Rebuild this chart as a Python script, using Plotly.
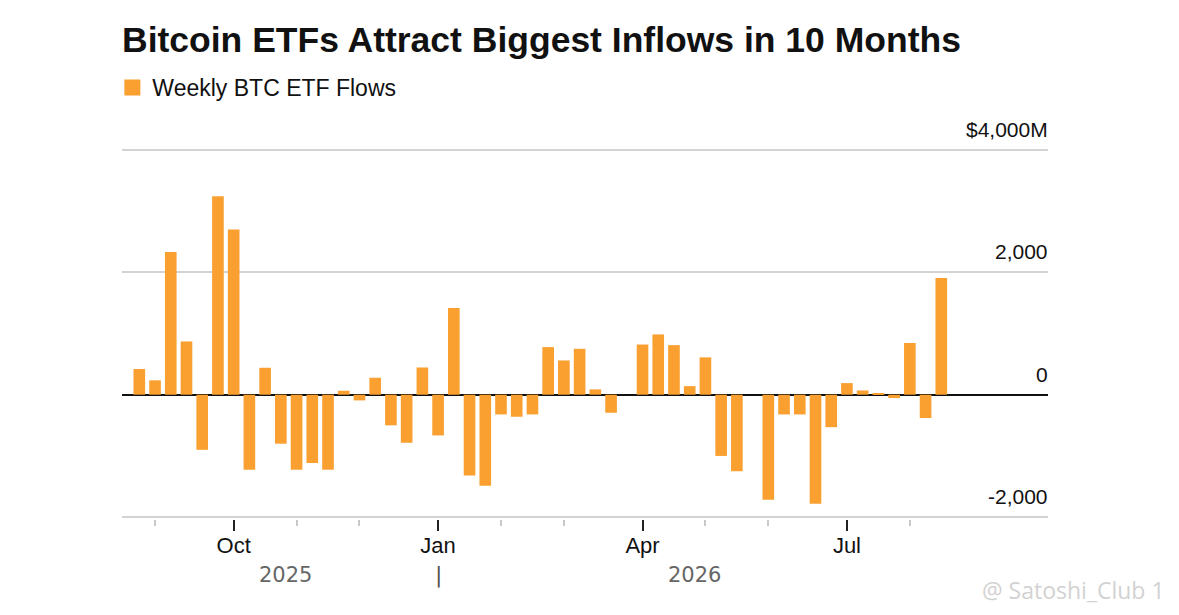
import plotly.graph_objects as go
import pandas as pd

# ---- data ----
week_ending = pd.date_range("2025-08-22", periods=52, freq="7D")
flows_musd = [
    420, 235, 2330, 870, -900, 3240, 2700, -1225, 440, -800,
    -1225, -1117, -1225, 65, -93, 277, -500, -785, 445, -665,
    1415, -1318, -1485, -322, -360, -322, 778, 560, 750, 87,
    -295, 0, 820, 985, 810, 140, 610, -1000, -1250, 0,
    -1715, -322, -322, -1780, -530, 190, 70, 27, -55, 845,
    -380, 1905,
]
month_tick_dates = ["2025-10-03", "2026-01-02", "2026-04-03", "2026-07-03"]
month_tick_labels = ["Oct", "Jan", "Apr", "Jul"]
minor_tick_dates = ["2025-08-29", "2025-10-31", "2025-11-28", "2026-01-30",
                    "2026-02-27", "2026-05-01", "2026-05-29", "2026-07-31"]
year_labels = ["2025", "2026"]
year_label_dates = ["2025-10-26", "2026-04-26"]
year_divider_date = "2026-01-02"
y_tick_values = [-2000, 0, 2000, 4000]
y_tick_labels = ["-2,000", "0", "2,000", "$4,000M"]

title_text = "Bitcoin ETFs Attract Biggest Inflows in 10 Months"
series_name = "Weekly BTC ETF Flows"

BAR = "#F9A031"
FONT = "Liberation Sans, Arial, sans-serif"

# page body adds 8px offset; figure sized to fit window
W, H = 1171, 607
L, T = 114, 140.2
PW, PH = 926, 371.2

fig = go.Figure()
fig.add_trace(go.Bar(
    x=week_ending, y=flows_musd, marker_color=BAR, marker_line_width=0,
    showlegend=False, name=series_name,
))
# legend entry (square swatch)
fig.add_trace(go.Scatter(
    x=[None], y=[None], mode="markers", name=series_name,
    marker=dict(symbol="square", size=17, color=BAR),
))

fig.update_layout(
    width=W, height=H,
    margin=dict(l=L, r=W - L - PW, t=T, b=H - T - PH, autoexpand=False),
    paper_bgcolor="white", plot_bgcolor="white",
    bargap=0.26,
    font=dict(family=FONT, color="#111111", size=21),
    title=dict(
        text="<b>" + title_text + "</b>",
        x=114 / W, xanchor="left", xref="container",
        y=1 - 32 / H, yanchor="middle", yref="container",
        font=dict(family=FONT, size=35.5, color="#111111"),
    ),
    legend=dict(
        x=-0.0104, xanchor="left", y=1.163, yanchor="middle",
        orientation="h", font=dict(size=23, color="#111111"),
        bgcolor="rgba(0,0,0,0)", itemclick=False,
    ),
    xaxis=dict(
        type="date",
        range=["2025-08-14 07:00", "2026-09-30 12:00"],
        tickmode="array", tickvals=month_tick_dates, ticktext=month_tick_labels,
        ticks="outside", ticklen=11, tickwidth=1.5, tickcolor="#222222",
        ticklabelstandoff=-4,
        tickfont=dict(size=22, color="#111111"),
        showgrid=False, zeroline=False, showline=False,
        minor=dict(tickmode="array", tickvals=minor_tick_dates, ticks="outside",
                   ticklen=6, tickwidth=1.5, tickcolor="#c8c8c8", showgrid=False),
        fixedrange=True,
    ),
    yaxis=dict(
        side="right",
        range=[-2030, 4030],
        tickmode="array", tickvals=y_tick_values, ticktext=y_tick_labels,
        showticklabels=False, ticks="",
        showgrid=True, gridcolor="#d3d3d3", gridwidth=1.5,
        zeroline=True, zerolinecolor="#111111", zerolinewidth=1.5,
        showline=False, fixedrange=True,
    ),
)

annotations = []
# y-axis value labels sitting above their gridlines, right-aligned
for v, lbl in zip(y_tick_values, y_tick_labels):
    annotations.append(dict(
        x=1, xref="paper", y=v, yref="y", text=lbl, showarrow=False,
        xanchor="right", yanchor="bottom", yshift=7, xshift=2,
        font=dict(family=FONT, size=21, color="#111111"),
    ))
for lbl, d in zip(year_labels, year_label_dates):
    annotations.append(dict(
        x=d, xref="x", y=-0.151, yref="paper", text=lbl, showarrow=False,
        xanchor="center", yanchor="middle",
        font=dict(family="DejaVu Sans, sans-serif", size=21, color="#666666"),
    ))
annotations.append(dict(
    x=year_divider_date, xref="x", y=-0.152, yref="paper", text="|", showarrow=False,
    xanchor="center", yanchor="middle",
    font=dict(family="DejaVu Sans, sans-serif", size=22, color="#555555"),
))
annotations.append(dict(
    x=(1167 - 122) / PW, xref="paper", y=-0.192, yref="paper",
    text="@ Satoshi_Club 1",
    showarrow=False, xanchor="right", yanchor="middle",
    font=dict(family="Open Sans, sans-serif", size=23, color="#d2d2d2"),
))
fig.update_layout(annotations=annotations)

fig.write_html("out.html")
